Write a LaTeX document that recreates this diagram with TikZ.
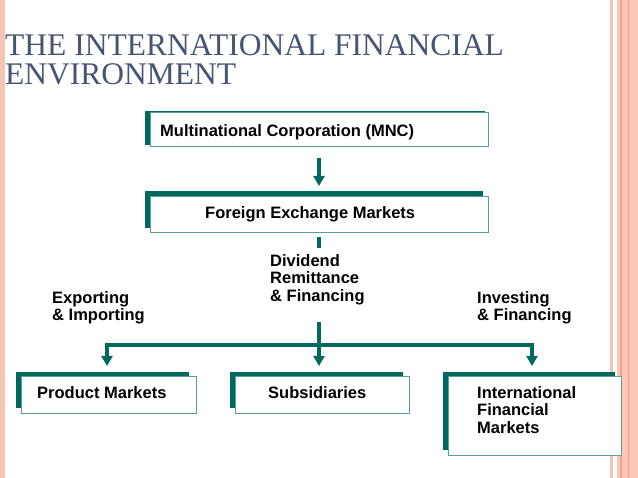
\documentclass[tikz,border=0pt]{standalone}
\usepackage{fontspec}
\setmainfont{Liberation Sans}
\newfontfamily\titlefont{Liberation Serif}
\usetikzlibrary{arrows.meta}
\definecolor{teal1}{RGB}{0,104,92}
\definecolor{tealb}{RGB}{90,160,150}
\definecolor{pink1}{RGB}{246,196,178}
\definecolor{peach}{RGB}{252,200,180}
\definecolor{titlec}{RGB}{70,85,115}
\begin{document}
\begin{tikzpicture}[x=1pt,y=-1pt,
  shad/.style={fill=teal1},
  wbox/.style={fill=white,draw=tealb,line width=1pt},
  lbl/.style={font=\fontsize{16.5}{17.5}\selectfont\bfseries,anchor=north west,align=left,inner sep=0},
  arr/.style={teal1,line width=4pt,-{Triangle[width=11pt,length=10pt]}},
  bar/.style={teal1,line width=4pt}]
\useasboundingbox (0,0) rectangle (638,478);
\fill[white] (0,0) rectangle (638,478);
\fill[pink1] (0,0) rectangle (5,478);
\fill[pink1] (610,0) rectangle (613,478);
\fill[peach] (617,0) rectangle (638,478);
\fill[pink1!80!red] (620,0) rectangle (622,478);
\fill[pink1!80!red] (628,0) rectangle (629,478);
\node[anchor=north west,inner sep=0,align=left,text=titlec,font=\titlefont\fontsize{31.5}{29}\selectfont] (title) at (5,34) {THE INTERNATIONAL FINANCIAL\\ENVIRONMENT};
% boxes
\fill[shad] (145,111) rectangle (485,145);
\draw[wbox] (150,113) rectangle (488,147);
\node[lbl] (mnc) at (160,124) {Multinational Corporation (MNC)};
\fill[shad] (145,191) rectangle (483,228);
\draw[wbox] (150,197) rectangle (488,233);
\node[lbl] (fem) at (205,206) {Foreign Exchange Markets};
\fill[shad] (16,372) rectangle (189,408);
\draw[wbox] (21,377) rectangle (196,414);
\node[lbl] (pm) at (37,386) {Product Markets};
\fill[shad] (230,372) rectangle (403,408);
\draw[wbox] (235,377) rectangle (409,414);
\node[lbl] (sub) at (268,386) {Subsidiaries};
\fill[shad] (443,372) rectangle (615,450);
\draw[wbox] (448,377) rectangle (621,456);
\node[lbl] (ifm) at (477,386) {International\\Financial\\Markets};
% labels
\node[lbl] (div) at (270,254) {Dividend\\Remittance\\\& Financing};
\node[lbl] (exp) at (52,291) {Exporting\\\& Importing};
\node[lbl] (inv) at (477,291) {Investing\\\& Financing};
% connectors
\coordinate (a1) at (319,158);
\coordinate (a2) at (319,186);
\draw[arr] (a1) -- (a2);
\coordinate (b1) at (319,237);
\coordinate (b2) at (319,248);
\draw[bar] (b1) -- (b2);
\coordinate (c1) at (319,322);
\coordinate (h) at (319,345);
\coordinate (hl) at (107,345);
\coordinate (hr) at (532,345);
\draw[bar] (c1) -- (h);
\draw[bar,line cap=rect] (hl) -- (hr);
\draw[arr] (hl) -- (107,366);
\draw[arr] (h) -- (319,366);
\draw[arr] (hr) -- (532,366);
\end{tikzpicture}
\end{document}
